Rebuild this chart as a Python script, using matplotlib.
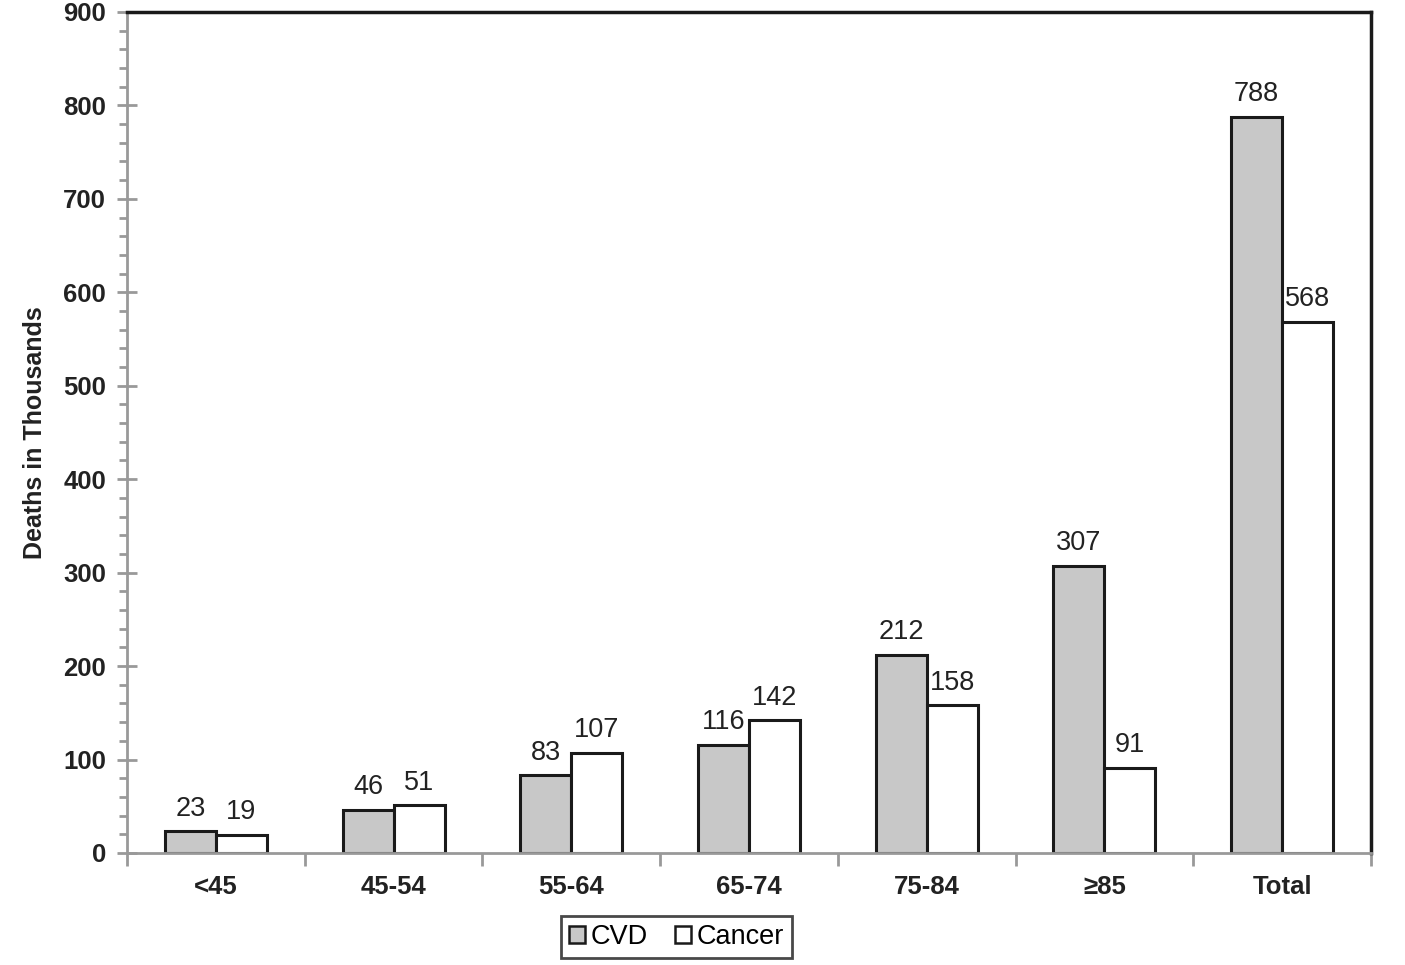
import numpy as np
import matplotlib.pyplot as plt
from matplotlib.ticker import MultipleLocator, FixedLocator

plt.rcParams['font.family'] = ['Liberation Sans', 'DejaVu Sans']

categories = ['<45', '45-54', '55-64', '65-74', '75-84', '≥85', 'Total']
cvd = [23, 46, 83, 116, 212, 307, 788]
cancer = [19, 51, 107, 142, 158, 91, 568]

fig = plt.figure(figsize=(14.05, 9.65), dpi=100)
ax = fig.add_axes([0.0904, 0.1161, 0.8854, 0.8715])

x = np.arange(len(categories))
w = 0.287
b1 = ax.bar(x - w / 2, cvd, w, color='#c8c8c8', edgecolor='#1a1a1a', linewidth=2.2, label='CVD')
b2 = ax.bar(x + w / 2, cancer, w, color='white', edgecolor='#1a1a1a', linewidth=2.2, label='Cancer')

for bars, vals in [(b1, cvd), (b2, cancer)]:
    for r, v in zip(bars, vals):
        ax.annotate(str(v), (r.get_x() + r.get_width() / 2, v), xytext=(0, 7),
                    textcoords='offset points', ha='center', va='bottom', fontsize=19.5, color='#222222')

ax.set_xlim(-0.5, len(categories) - 0.5)
ax.set_ylim(0, 900)
ax.yaxis.set_major_locator(MultipleLocator(100))
ax.yaxis.set_minor_locator(MultipleLocator(20))
ax.xaxis.set_major_locator(FixedLocator(x))
ax.xaxis.set_minor_locator(FixedLocator(np.arange(len(categories) + 1) - 0.5))
ax.set_xticklabels(categories, fontsize=18.5, fontweight='bold', color='#222222')
ax.tick_params(axis='x', which='major', length=0, pad=16)
ax.tick_params(axis='x', which='minor', length=9, width=2, color='#999999', direction='out')
ax.tick_params(axis='y', which='major', length=14, width=2, color='#999999', direction='inout',
               labelsize=18.5, pad=8, labelcolor='#222222')
ax.tick_params(axis='y', which='minor', length=6, width=2, color='#999999', direction='out')
for lab in ax.get_yticklabels():
    lab.set_fontweight('bold')

ax.set_ylabel('Deaths in Thousands', fontsize=18, fontweight='bold', color='#222222', labelpad=12)

ax.spines['left'].set_color('#999999')
ax.spines['bottom'].set_color('#999999')
ax.spines['left'].set_linewidth(2)
ax.spines['bottom'].set_linewidth(2)
ax.spines['top'].set_color('#1a1a1a')
ax.spines['right'].set_color('#1a1a1a')
ax.spines['top'].set_linewidth(2.5)
ax.spines['right'].set_linewidth(2.5)

leg = ax.legend(loc='center', bbox_to_anchor=(0.4415, -0.1), ncol=2, fontsize=19.5,
                frameon=True, fancybox=False, edgecolor='#1a1a1a', handlelength=0.6,
                handleheight=0.6, handletextpad=0.2, columnspacing=1.0, borderpad=0.3,
                borderaxespad=0.0)
leg.get_frame().set_linewidth(2)
leg._legend_box.sep = 0
for h in leg.legend_handles:
    h.set_linewidth(1.8)

fig.savefig('out.png', dpi=100)
